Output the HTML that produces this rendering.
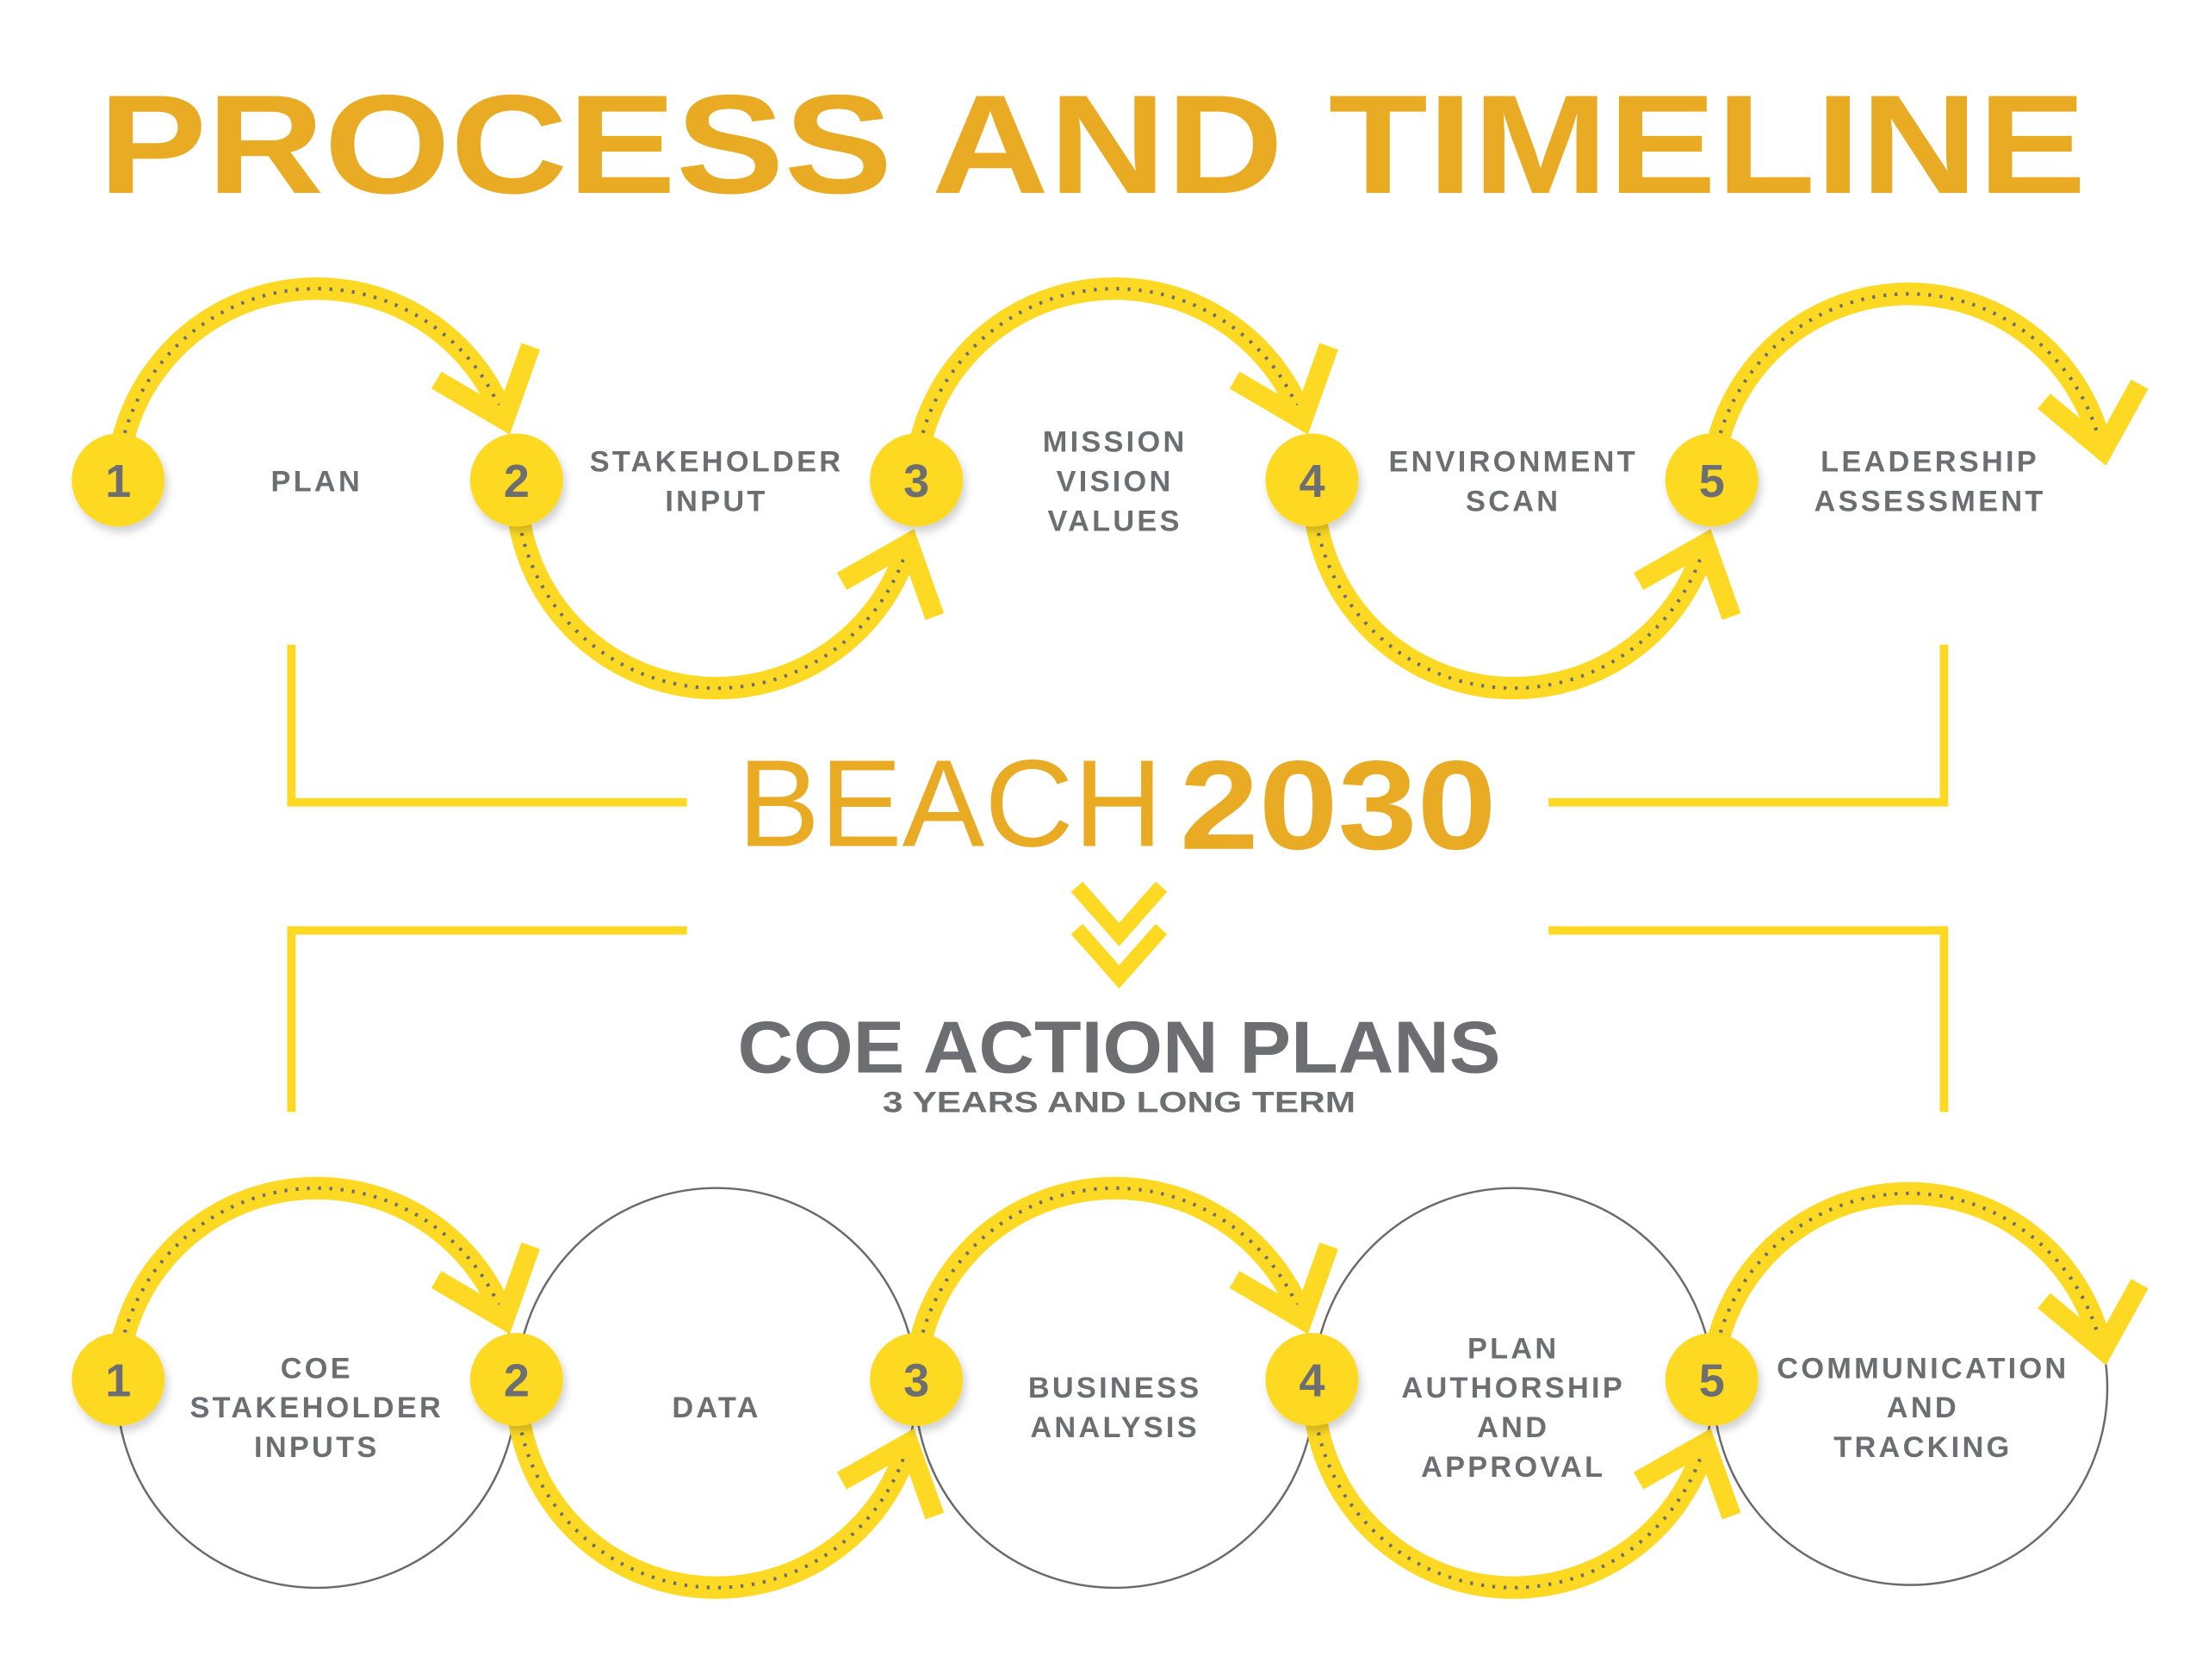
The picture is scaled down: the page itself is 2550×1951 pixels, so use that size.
<!DOCTYPE html>
<html><head><meta charset="utf-8"><style>
html,body{margin:0;padding:0;background:#fff;}
svg{display:block;}
text{font-family:"Liberation Sans",sans-serif;font-weight:bold;}
.lb{fill:#6D6E71;font-size:21px;letter-spacing:2px;text-anchor:middle;}
.num{fill:#6D6E71;font-size:33px;text-anchor:middle;}
.band{fill:none;stroke:#FDD923;stroke-width:16;}
.dot{fill:none;stroke:#6D6E71;stroke-width:2.5;stroke-dasharray:2 6;}
.arr{fill:none;stroke:#FDD923;stroke-width:14;stroke-linejoin:miter;}
.br{fill:none;stroke:#FDD923;stroke-width:6;}
</style></head><body>
<svg width="2550" height="1951" viewBox="0 0 1560 1193.5" preserveAspectRatio="none" xmlns="http://www.w3.org/2000/svg">
<defs>
<filter id="sh" x="-50%" y="-50%" width="200%" height="200%"><feDropShadow dx="2" dy="4" stdDeviation="3" flood-color="#000" flood-opacity="0.18"/></filter>
<g id="row">
<path class="band" d="M83 347 A142 142 0 0 1 358.4 298.4"/>
<path class="dot" d="M83 347 A142 142 0 0 1 358.4 298.4"/>
<polyline class="arr" points="310,270 358.4,298.4 377,246"/>
<path class="band" d="M367 347 A142 142 0 0 0 645.5 386"/>
<path class="dot" d="M367 347 A142 142 0 0 0 645.5 386"/>
<polyline class="arr" points="598,413 645.5,386 664,438"/>
<path class="band" d="M650 347 A142 142 0 0 1 925.4 298.4"/>
<path class="dot" d="M650 347 A142 142 0 0 1 925.4 298.4"/>
<polyline class="arr" points="877,270 925.4,298.4 944,246"/>
<path class="band" d="M933 347 A142 142 0 0 0 1211.5 386"/>
<path class="dot" d="M933 347 A142 142 0 0 0 1211.5 386"/>
<polyline class="arr" points="1164,413 1211.5,386 1230,438"/>
<path class="band" d="M1216 347 A140 140 0 0 1 1493 320"/>
<path class="dot" d="M1216 347 A140 140 0 0 1 1493 320"/>
<polyline class="arr" points="1452,285 1494,320 1520,273"/>
</g>
</defs>

<text x="776" y="137" font-size="100" fill="#E9AB23" text-anchor="middle" textLength="1412" lengthAdjust="spacingAndGlyphs">PROCESS AND TIMELINE</text>

<g fill="none" stroke="#6a6a6a" stroke-width="1.5">
<circle cx="225" cy="986" r="142"/><circle cx="509" cy="986" r="142"/><circle cx="792" cy="986" r="142"/><circle cx="1075" cy="986" r="142"/><circle cx="1357" cy="986" r="140"/>
</g>

<use href="#row"/>
<use href="#row" transform="translate(0,639)"/>

<g fill="#FDD923" filter="url(#sh)">
<circle cx="84" cy="341" r="33"/><circle cx="367" cy="341" r="33"/><circle cx="651" cy="341" r="33"/><circle cx="932" cy="341" r="33"/><circle cx="1216" cy="341" r="33"/>
<circle cx="84" cy="980" r="33"/><circle cx="367" cy="980" r="33"/><circle cx="651" cy="980" r="33"/><circle cx="932" cy="980" r="33"/><circle cx="1216" cy="980" r="33"/>
</g>
<g class="num">
<text class="num" x="84" y="353">1</text><text class="num" x="367" y="353">2</text><text class="num" x="651" y="353">3</text><text class="num" x="932" y="353">4</text><text class="num" x="1216" y="353">5</text>
<text class="num" x="84" y="992">1</text><text class="num" x="367" y="992">2</text><text class="num" x="651" y="992">3</text><text class="num" x="932" y="992">4</text><text class="num" x="1216" y="992">5</text>
</g>

<text class="lb" x="225" y="349">PLAN</text>
<text class="lb" x="509" y="335">STAKEHOLDER</text><text class="lb" x="509" y="363">INPUT</text>
<text class="lb" x="792" y="321">MISSION</text><text class="lb" x="792" y="349">VISION</text><text class="lb" x="792" y="377">VALUES</text>
<text class="lb" x="1075" y="335">ENVIRONMENT</text><text class="lb" x="1075" y="363">SCAN</text>
<text class="lb" x="1371" y="335">LEADERSHIP</text><text class="lb" x="1371" y="363">ASSESSMENT</text>

<text class="lb" x="225" y="979">COE</text><text class="lb" x="225" y="1007">STAKEHOLDER</text><text class="lb" x="225" y="1035">INPUTS</text>
<text class="lb" x="509" y="1007">DATA</text>
<text class="lb" x="792" y="993">BUSINESS</text><text class="lb" x="792" y="1021">ANALYSIS</text>
<text class="lb" x="1075" y="965">PLAN</text><text class="lb" x="1075" y="993">AUTHORSHIP</text><text class="lb" x="1075" y="1021">AND</text><text class="lb" x="1075" y="1049">APPROVAL</text>
<text class="lb" x="1366" y="979">COMMUNICATION</text><text class="lb" x="1366" y="1007">AND</text><text class="lb" x="1366" y="1035">TRACKING</text>

<polyline class="br" points="207,458 207,570 488,570"/>
<polyline class="br" points="1381,458 1381,570 1100,570"/>
<polyline class="br" points="488,661 207,661 207,790"/>
<polyline class="br" points="1100,661 1381,661 1381,790"/>

<text x="524" y="601" font-size="88" fill="#E9AB23" style="font-weight:normal" textLength="302" lengthAdjust="spacingAndGlyphs">BEACH</text>
<text x="838" y="603" font-size="90" fill="#E9AB23" textLength="225" lengthAdjust="spacingAndGlyphs">2030</text>

<polyline points="765,630 795,664 825,630" fill="none" stroke="#FDD923" stroke-width="11"/>
<polyline points="765,660 795,694 825,660" fill="none" stroke="#FDD923" stroke-width="11"/>

<text x="795" y="762" font-size="52" fill="#6D6E71" text-anchor="middle" textLength="542" lengthAdjust="spacingAndGlyphs">COE ACTION PLANS</text>
<text x="795" y="790" font-size="21" fill="#6D6E71" text-anchor="middle" textLength="336" lengthAdjust="spacingAndGlyphs">3 YEARS AND LONG TERM</text>
</svg>
</body></html>
